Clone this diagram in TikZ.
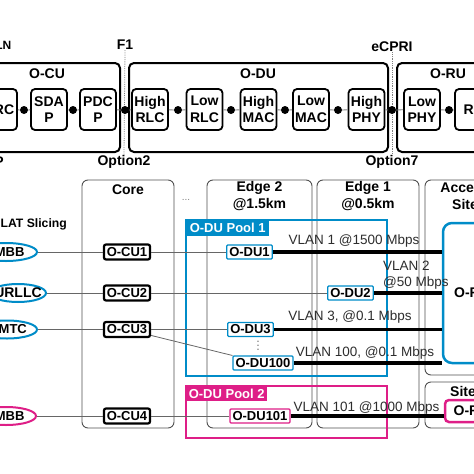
\documentclass[tikz,border=0pt]{standalone}
\usepackage{fontspec}
\setmainfont{Liberation Sans}
\usetikzlibrary{shapes.geometric}

\definecolor{oranblue}{RGB}{0,140,200}
\definecolor{oranpink}{RGB}{222,30,135}
\definecolor{framegray}{RGB}{80,80,80}
\definecolor{textgray}{RGB}{45,45,45}

\tikzset{
  lbl/.style={font=\bfseries\fontsize{14}{17}\selectfont,align=center,inner sep=0pt},
  vlanlbl/.style={font=\fontsize{13.5}{16}\selectfont,text=textgray,align=left,inner sep=0pt},
  bigbox/.style={draw,line width=2pt,rounded corners=5pt},
  sitebox/.style={draw=framegray,line width=0.9pt,rounded corners=6pt},
  splitline/.style={draw=gray,line width=0.8pt,densely dotted}
}

\begin{document}
\begin{tikzpicture}[x=1pt,y=-1pt]
  \useasboundingbox (0,0) rectangle (474,474);
  \clip (0,0) rectangle (474,474);

  \draw[bigbox] (-30,63) rectangle (120,152);
  \draw[bigbox] (129,63) rectangle (388,152);
  \draw[bigbox] (397,63) rectangle (500,152);

  \node[lbl,font=\bfseries\fontsize{12}{14}\selectfont] (lan) [anchor=east] at (11.5,45) {LN};
  \node[lbl] (f1)    at (125,45)  {F1};
  \node[lbl] (ecpri) at (392,47)  {eCPRI};
  \node[lbl] (opt2)  at (124,162) {Option2};
  \node[lbl] (opt7)  at (392,162) {Option7};
  \node[lbl] (rest)  [anchor=east] at (4,162) {P};
  \node[lbl] (cu)    at (47,73.5) {O-CU};
  \node[lbl] (du)    at (258,73.5) {O-DU};
  \node[lbl] (ru)    at (448,73.5) {O-RU};

  \path[splitline] (f1.south) -- (opt2.north);
  \path[splitline] (ecpri.south) -- (opt7.north);

  \begin{scope}[every node/.style={draw,fill=white,line width=1.8pt,rounded corners=4pt,minimum width=36pt,minimum height=41pt,inner sep=0pt,align=center,font=\bfseries\fontsize{14}{16.5}\selectfont}]
    \node (rrc)  at (-1,109.5)   {RRC};
    \node (sdap) at (49,109.5)   {SDA\\P};
    \node (pdcp) at (98,109.5)   {PDC\\P};
    \node (hrlc) at (150,109.5)  {High\\RLC};
    \node (lrlc) at (204.5,109.5) {Low\\RLC};
    \node (hmac) at (258.5,109.5) {High\\MAC};
    \node (lmac) at (311,109.5)  {Low\\MAC};
    \node (hphy) at (366.5,109.5) {High\\PHY};
    \node (lphy) at (422,109.5)  {Low\\PHY};
    \node (rf)   at (473,109.5)  {RF};
  \end{scope}

  \begin{scope}[every node/.style={circle,fill=black,inner sep=0pt,minimum size=8pt}]
    \node (d1) at (24,110)  {};
    \node (d2) at (73,110)  {};
    \node (d3) at (125,110) {};
    \node (d4) at (178,110) {};
    \node (d5) at (231,110) {};
    \node (d6) at (285,110) {};
    \node (d7) at (338,110) {};
    \node (d8) at (392,110) {};
    \node (d9) at (449,110) {};
  \end{scope}

  \begin{scope}[every edge/.style={draw,gray,line width=0.8pt}]
    \path (rrc)  edge (d1) (d1) edge (sdap);
    \path (sdap) edge (d2) (d2) edge (pdcp);
    \path (pdcp) edge (d3) (d3) edge (hrlc);
    \path (hrlc) edge (d4) (d4) edge (lrlc);
    \path (lrlc) edge (d5) (d5) edge (hmac);
    \path (hmac) edge (d6) (d6) edge (lmac);
    \path (lmac) edge (d7) (d7) edge (hphy);
    \path (hphy) edge (d8) (d8) edge (lphy);
    \path (lphy) edge (d9) (d9) edge (rf);
  \end{scope}

  \draw[sitebox] (82,180) rectangle (174,428);
  \draw[sitebox] (207,180) rectangle (312,428);
  \draw[sitebox] (317,180) rectangle (419,428);
  \draw[sitebox] (425,180) rectangle (520,375);
  \draw[sitebox] (425,382) rectangle (520,428);

  \node[lbl] (core)  at (128,190)   {Core};
  \node[lbl] (edge2) at (259.5,196.5) {Edge 2\\@1.5km};
  \node[lbl] (edge1) at (368,196.5) {Edge 1\\@0.5km};
  \node[lbl] (acc)   at (465,196.5) {Access\\Site};
  \node[lbl] (site)  [anchor=west] at (450,391) {Site};
  \node[font=\fontsize{10}{12}\selectfont,text=gray] (more) at (186,200) {...};
  \node[lbl,font=\bfseries\fontsize{12.2}{14}\selectfont] (slicing) [anchor=east] at (67,224) {LAT Slicing};

  \draw[oranblue,line width=2pt] (186,220) rectangle (387,376);
  \draw[oranpink,line width=2pt] (186,386) rectangle (387,438);
  \node[lbl,font=\bfseries\fontsize{13}{15}\selectfont,fill=oranblue,text=white,anchor=north west,minimum width=83pt,minimum height=16pt] (pool1) at (186,220) {O-DU Pool 1};
  \node[lbl,font=\bfseries\fontsize{13}{15}\selectfont,fill=oranpink,text=white,anchor=north west,minimum width=81pt,minimum height=15pt] (pool2) at (186,386) {O-DU Pool 2};

  \begin{scope}[every node/.style={ellipse,draw=oranblue,fill=white,line width=2pt,inner xsep=-8pt,inner ysep=0pt,minimum height=18pt,font=\bfseries\fontsize{13}{15}\selectfont}]
    \node[minimum width=62pt] (embb)  at (6,252)   {eMBB};
    \node[minimum width=56pt,font=\bfseries\fontsize{14}{16}\selectfont] (urllc) at (18,293) {URLLC};
    \node[minimum width=60pt] (mmtc)  at (7,329.5) {mMTC};
    \node[minimum width=60pt,draw=oranpink] (embbb) at (6,416) {eMBB};
  \end{scope}

  \begin{scope}[every node/.style={draw,fill=white,line width=2.2pt,rounded corners=2pt,minimum width=46pt,minimum height=15pt,inner sep=0pt,font=\bfseries\fontsize{13}{15}\selectfont}]
    \node (ocu1) at (127,252)   {O-CU1};
    \node (ocu2) at (127,293)   {O-CU2};
    \node (ocu3) at (127,329.5) {O-CU3};
    \node (ocu4) at (127,416)   {O-CU4};
  \end{scope}

  \begin{scope}[every node/.style={draw=oranblue,fill=white,line width=1.2pt,rounded corners=1pt,minimum height=14pt,inner ysep=0pt,inner xsep=2.5pt,font=\bfseries\fontsize{13}{15}\selectfont}]
    \node (odu1)   at (249.5,252)   {O-DU1};
    \node (odu2)   at (350.5,293)   {O-DU2};
    \node (odu3)   at (250.5,329.5) {O-DU3};
    \node (odu100) at (263,363)     {O-DU100};
    \node[draw=oranpink] (odu101) at (260,416) {O-DU101};
  \end{scope}
  \node[font=\bfseries\fontsize{9}{10}\selectfont,text=gray] (vdots) at (258,343) {\vdots};

  \node[draw=oranblue,line width=2.5pt,rounded corners=9pt,minimum width=58pt,minimum height=140pt,inner sep=0pt,lbl] (oru1) at (472,293) {O-RU};
  \node[draw=oranpink,line width=2.5pt,rounded corners=4pt,minimum width=53pt,minimum height=22pt,inner sep=0pt,lbl] (oru2) at (471.5,411) {O-RU};

  \begin{scope}[every edge/.style={draw,gray!80!black,line width=0.8pt}]
    \path (embb)  edge (ocu1);
    \path (urllc) edge (ocu2);
    \path (mmtc)  edge (ocu3);
    \path (embbb) edge (ocu4);
    \path (ocu1) edge (odu1);
    \path (ocu2) edge (odu2);
    \path (ocu3) edge (odu3);
    \path (ocu3) edge (odu100);
    \path (ocu4) edge (odu101);
  \end{scope}

  \begin{scope}[every edge/.style={draw,line width=3.5pt}]
    \path (odu1)   edge (odu1 -| oru1.west);
    \path (odu2)   edge (odu2 -| oru1.west);
    \path (odu3)   edge (odu3 -| oru1.west);
    \path (odu100) edge (odu100 -| oru1.west);
    \path (odu101) edge (odu101 -| oru2.west);
  \end{scope}

  \node[vlanlbl] (vlan1)   at (354,241)   {VLAN 1 @1500 Mbps};
  \node[vlanlbl,anchor=west] (vlan2) at (383,275) {VLAN 2\\@50 Mbps};
  \node[vlanlbl] (vlan3)   at (350,317)   {VLAN 3, @0.1 Mbps};
  \node[vlanlbl] (vlan100) at (365,353)   {VLAN 100, @0.1 Mbps};
  \node[vlanlbl] (vlan101) at (366.5,408) {VLAN 101 @1000 Mbps};
\end{tikzpicture}
\end{document}
